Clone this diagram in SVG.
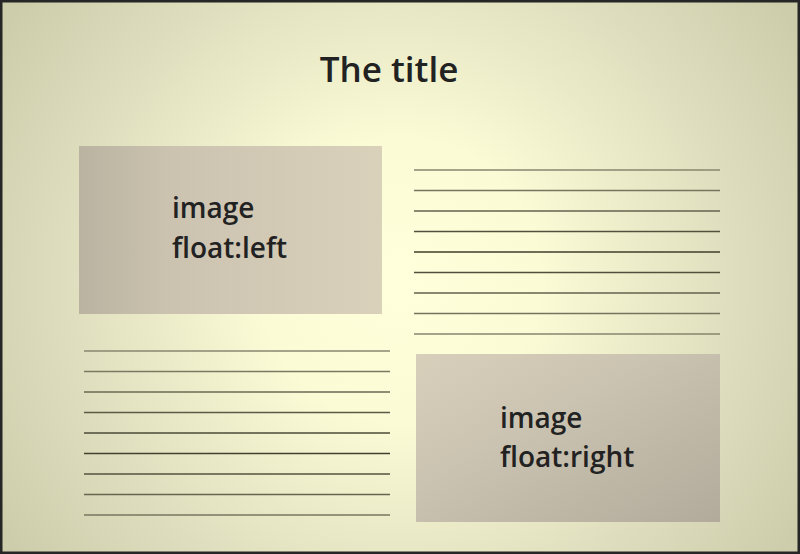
<svg xmlns="http://www.w3.org/2000/svg" width="800" height="554" viewBox="0 0 800 554">
<defs>
<radialGradient id="bg" gradientUnits="userSpaceOnUse" cx="400" cy="280" r="470">
<stop offset="0" stop-color="#ffffdb"/>
<stop offset="0.3" stop-color="#fbfbd6"/>
<stop offset="0.7" stop-color="#dfdebe"/>
<stop offset="1" stop-color="#cdccab"/>
</radialGradient>
<linearGradient id="imgL" x1="0" y1="0" x2="1" y2="0">
<stop offset="0" stop-color="#bab3a1"/>
<stop offset="0.3" stop-color="#cbc3b0"/>
<stop offset="1" stop-color="#dad1bb"/>
</linearGradient>
<linearGradient id="imgR" x1="0" y1="0" x2="1" y2="1">
<stop offset="0" stop-color="#d8cfbb"/>
<stop offset="0.4" stop-color="#cbc3b1"/>
<stop offset="1" stop-color="#b2ab9b"/>
</linearGradient>
<linearGradient id="lnR" gradientUnits="userSpaceOnUse" x1="0" y1="165" x2="0" y2="340">
<stop offset="0" stop-color="#8c8b74"/>
<stop offset="0.5" stop-color="#3e3e2c"/>
<stop offset="1" stop-color="#8c8b74"/>
</linearGradient>
<linearGradient id="lnL" gradientUnits="userSpaceOnUse" x1="0" y1="346" x2="0" y2="520">
<stop offset="0" stop-color="#8c8b74"/>
<stop offset="0.6" stop-color="#3e3e2c"/>
<stop offset="1" stop-color="#7c7b64"/>
</linearGradient>
</defs>
<style>
.txt{font-family:"Open Sans","Noto Sans",sans-serif;fill:#222222;}
.lab{font-size:28px;font-weight:600;}
.ttl{font-size:35px;font-weight:600;}
.lr{stroke:url(#lnR);stroke-width:1.5;}
.ll{stroke:url(#lnL);stroke-width:1.5;}
</style>
<rect id="background" x="1.25" y="1.25" width="797.5" height="551.5" fill="url(#bg)" stroke="#262626" stroke-width="2.5"/>
<g id="title"><text class="txt ttl" x="389" y="82" text-anchor="middle">The title</text></g>
<g id="image-left">
<rect x="79" y="146" width="303" height="168" fill="url(#imgL)"/>
<text class="txt lab" x="172" y="218">image</text>
<text class="txt lab" x="172" y="258">float:left</text>
</g>
<g id="image-right">
<rect x="416" y="354" width="304" height="168" fill="url(#imgR)"/>
<text class="txt lab" x="500" y="428">image</text>
<text class="txt lab" x="500" y="467">float:right</text>
</g>
<g id="text-right" class="lr">
<line x1="414" y1="170" x2="720" y2="170"/>
<line x1="414" y1="190.5" x2="720" y2="190.5"/>
<line x1="414" y1="211" x2="720" y2="211"/>
<line x1="414" y1="231.5" x2="720" y2="231.5"/>
<line x1="414" y1="252" x2="720" y2="252"/>
<line x1="414" y1="272.5" x2="720" y2="272.5"/>
<line x1="414" y1="293" x2="720" y2="293"/>
<line x1="414" y1="313.5" x2="720" y2="313.5"/>
<line x1="414" y1="334" x2="720" y2="334"/>
</g>
<g id="text-left" class="ll">
<line x1="84" y1="351" x2="390" y2="351"/>
<line x1="84" y1="371.5" x2="390" y2="371.5"/>
<line x1="84" y1="392" x2="390" y2="392"/>
<line x1="84" y1="412.5" x2="390" y2="412.5"/>
<line x1="84" y1="433" x2="390" y2="433"/>
<line x1="84" y1="453.5" x2="390" y2="453.5"/>
<line x1="84" y1="474" x2="390" y2="474"/>
<line x1="84" y1="494.5" x2="390" y2="494.5"/>
<line x1="84" y1="515" x2="390" y2="515"/>
</g>
</svg>
